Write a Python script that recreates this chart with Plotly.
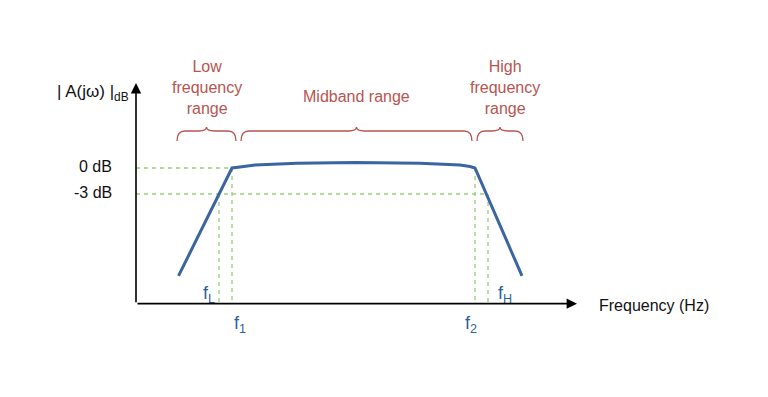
import plotly.graph_objects as go

# ---- data (x: frequency position in diagram units, y: gain in dB) ----
curve_freq = [42.5, 96, 104, 119, 161, 219, 284, 324, 334, 339, 386]
curve_gain = [-12.45, 0, 0.12, 0.35, 0.54, 0.63, 0.54, 0.35, 0.17, 0, -12.45]

marker_names = ["f<sub>L</sub>", "f<sub>1</sub>", "f<sub>2</sub>", "f<sub>H</sub>"]
marker_freq = [83, 96, 339, 352]
marker_level = [-3, 0, 0, -3]          # where each dashed vertical starts

level_labels = ["0 dB", "-3 dB"]
level_values = [0, -3]
level_extent = [96, 352]               # how far each dashed horizontal runs

range_names = ["Low<br>frequency<br>range", "Midband range", "High<br>frequency<br>range"]
range_start = [41, 105, 341]
range_end = [100, 336, 387]

axis_floor = -15.65
axis_top = 9.8
axis_right = 441

BLUE = "#3a65a0"
LBLUE = "#2f5f98"
GREEN = "#97D077"
RED = "#b85450"
FONT = "Liberation Sans, Arial, sans-serif"

fig = go.Figure()

# dashed guide lines
for lab, val, ext in zip(level_labels, level_values, level_extent):
    fig.add_trace(go.Scatter(x=[0, ext], y=[val, val], mode="lines",
                             line=dict(color=GREEN, width=1.3, dash="4px,4px"),
                             hoverinfo="skip", showlegend=False))
    fig.add_annotation(x=-22, y=val + 0.2, text=lab, showarrow=False,
                       xanchor="right", yanchor="middle",
                       font=dict(family=FONT, size=16, color="#111"))

for name, f, lvl in zip(marker_names, marker_freq, marker_level):
    fig.add_trace(go.Scatter(x=[f, f], y=[lvl, axis_floor], mode="lines",
                             line=dict(color=GREEN, width=1.3, dash="4px,4px"),
                             hoverinfo="skip", showlegend=False))

# response curve
fig.add_trace(go.Scatter(x=curve_freq, y=curve_gain, mode="lines",
                         line=dict(color=BLUE, width=3),
                         hoverinfo="skip", showlegend=False))

# marker labels
label_dx = [-10, 8, -4, 17]
label_dy = [1.0, -2.45, -2.45, 1.1]
for name, f, dx, dy in zip(marker_names, marker_freq, label_dx, label_dy):
    fig.add_annotation(x=f + dx, y=axis_floor + dy, text=name, showarrow=False,
                       xanchor="center", yanchor="middle",
                       font=dict(family=FONT, size=18, color=LBLUE))

# axes with arrows
fig.add_annotation(x=axis_right, y=axis_floor, ax=0, ay=axis_floor,
                   xref="x", yref="y", axref="x", ayref="y", text="",
                   showarrow=True, arrowhead=2, arrowsize=1.3, arrowwidth=1.6,
                   arrowcolor="#000")
fig.add_annotation(x=0, y=axis_top, ax=0, ay=axis_floor,
                   xref="x", yref="y", axref="x", ayref="y", text="",
                   showarrow=True, arrowhead=2, arrowsize=1.3, arrowwidth=1.6,
                   arrowcolor="#000")
fig.add_annotation(x=461, y=-15.85, text="Frequency (Hz)", showarrow=False,
                   xanchor="left", yanchor="middle",
                   font=dict(family=FONT, size=16, color="#111"))
fig.add_annotation(x=-81, y=8.6, text="| A(jω) |<sub>dB</sub>", showarrow=False,
                   xanchor="left", yanchor="middle",
                   font=dict(family=FONT, size=17, color="#111"))

# range braces and labels
y_end, y_mid, y_tip = 3.12, 4.27, 4.73
r = 8
for name, a, b in zip(range_names, range_start, range_end):
    c = (a + b) / 2
    path = (f"M {a},{y_end} Q {a},{y_mid} {a + r},{y_mid} L {c - r},{y_mid} "
            f"Q {c},{y_mid} {c},{y_tip} Q {c},{y_mid} {c + r},{y_mid} "
            f"L {b - r},{y_mid} Q {b},{y_mid} {b},{y_end}")
    fig.add_shape(type="path", path=path, xref="x", yref="y",
                  line=dict(color=RED, width=1.3))
    ty = 9.29 if "<br>" in name else 8.2
    tx = c + (5 if a > 300 else 0)
    fig.add_annotation(x=tx, y=ty, text=name, showarrow=False,
                       xanchor="center", yanchor="middle",
                       font=dict(family=FONT, size=16, color=RED))

fig.update_layout(
    width=768, height=397, margin=dict(l=0, r=0, t=0, b=0),
    paper_bgcolor="white", plot_bgcolor="white",
    xaxis=dict(range=[-136, 632], visible=False, fixedrange=True),
    yaxis=dict(range=[(168 - 397) / 8.667, 168 / 8.667], visible=False, fixedrange=True),
)

fig.write_html("out.html", config={"displayModeBar": False},
               post_script="document.body.style.margin='0';document.body.style.padding='0';")
